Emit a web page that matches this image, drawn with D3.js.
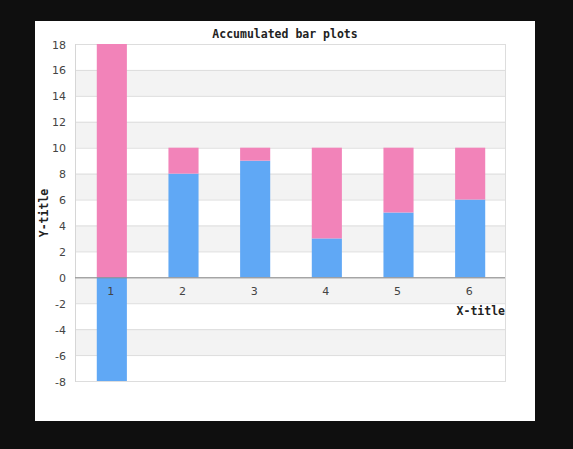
<!DOCTYPE html>
<html><head><meta charset="utf-8">
<script src="https://cdn.jsdelivr.net/npm/d3@7"></script>
<style>html,body{margin:0;padding:0;background:#0f0f0f;}svg{display:block;}</style>
</head><body>
<script>
const categories = ["1","2","3","4","5","6"];
const seriesBlue = [-8, 8, 9, 3, 5, 6];
const seriesPink = [18, 2, 1, 7, 5, 4];
const yTicks = [-8,-6,-4,-2,0,2,4,6,8,10,12,14,16,18];

const W = 573, H = 449;
const svg = d3.select("body").append("svg").attr("width", W).attr("height", H);
svg.append("rect").attr("width", W).attr("height", H).attr("fill", "#0f0f0f");
svg.append("rect").attr("x", 35).attr("y", 21).attr("width", 500).attr("height", 400).attr("fill", "#fff");

const L = 75, R = 505, T = 44, B = 381;
const y = d3.scaleLinear().domain([-8, 18]).range([B, T]);
const x = d3.scaleBand().domain(categories).range([L + 1, R + 1]).paddingInner(0.58).paddingOuter(0.29);

// bands
const g = svg.append("g");
for (let i = 0; i < yTicks.length - 1; i++) {
  const lo = yTicks[i], hi = yTicks[i+1];
  if (Math.abs(lo / 2) % 2 === 1) {
    g.append("rect").attr("x", L).attr("width", R - L)
      .attr("y", y(hi)).attr("height", y(lo) - y(hi)).attr("fill", "#f3f3f3");
  }
}
// grid
g.selectAll("line.grid").data(yTicks).join("line")
  .attr("x1", L).attr("x2", R).attr("y1", d => y(d) + 0.5).attr("y2", d => y(d) + 0.5)
  .attr("stroke", "#dddddd").attr("stroke-width", 1);
// borders
g.append("line").attr("x1", L + 0.5).attr("x2", L + 0.5).attr("y1", T).attr("y2", B + 1).attr("stroke", "#d6d6d6");
g.append("line").attr("x1", R + 0.5).attr("x2", R + 0.5).attr("y1", T).attr("y2", B + 1).attr("stroke", "#dddddd");

// bars
const data = categories.map((c, i) => ({c, b: seriesBlue[i], p: seriesPink[i]}));
svg.append("g").selectAll("rect").data(data).join("rect")
  .attr("x", d => x(d.c)).attr("width", x.bandwidth())
  .attr("y", d => d.b >= 0 ? y(d.b) : y(0))
  .attr("height", d => Math.abs(y(d.b) - y(0)))
  .attr("fill", "#60a8f5");
svg.append("g").selectAll("rect").data(data).join("rect")
  .attr("x", d => x(d.c)).attr("width", x.bandwidth())
  .attr("y", d => { const base = d.b >= 0 ? d.b : 0; return y(base + d.p); })
  .attr("height", d => { const base = d.b >= 0 ? d.b : 0; return y(base) - y(base + d.p); })
  .attr("fill", "#f283b9");

// zero line
svg.append("line").attr("x1", L).attr("x2", R).attr("y1", y(0) + 0.5).attr("y2", y(0) + 0.5)
  .attr("stroke", "#8a8a8a").attr("stroke-width", 1);

// y tick labels
svg.append("g").selectAll("text").data(yTicks).join("text")
  .attr("x", 66).attr("y", d => y(d) + 4.5).attr("text-anchor", "end")
  .attr("font-family", "DejaVu Sans, sans-serif").attr("font-size", 11).attr("fill", "#444")
  .text(d => d);

// x tick labels
svg.append("g").selectAll("text").data(categories).join("text")
  .attr("x", d => x(d) + x.bandwidth() / 2 - 1).attr("y", y(0) + 18).attr("text-anchor", "middle")
  .attr("font-family", "DejaVu Sans, sans-serif").attr("font-size", 11).attr("fill", "#444")
  .text(d => d);

// titles
svg.append("text").attr("x", 285).attr("y", 38).attr("text-anchor", "middle")
  .attr("font-family", "DejaVu Sans Mono, monospace").attr("font-weight", "bold").attr("font-size", 11.5)
  .attr("fill", "#222").text("Accumulated bar plots");
svg.append("text").attr("transform", "translate(48,213) rotate(-90)").attr("text-anchor", "middle")
  .attr("font-family", "DejaVu Sans Mono, monospace").attr("font-weight", "bold").attr("font-size", 11.5)
  .attr("fill", "#222").text("Y-title");
svg.append("text").attr("x", 505).attr("y", 315).attr("text-anchor", "end")
  .attr("font-family", "DejaVu Sans Mono, monospace").attr("font-weight", "bold").attr("font-size", 11.5)
  .attr("fill", "#222").text("X-title");
</script>
</body></html>
